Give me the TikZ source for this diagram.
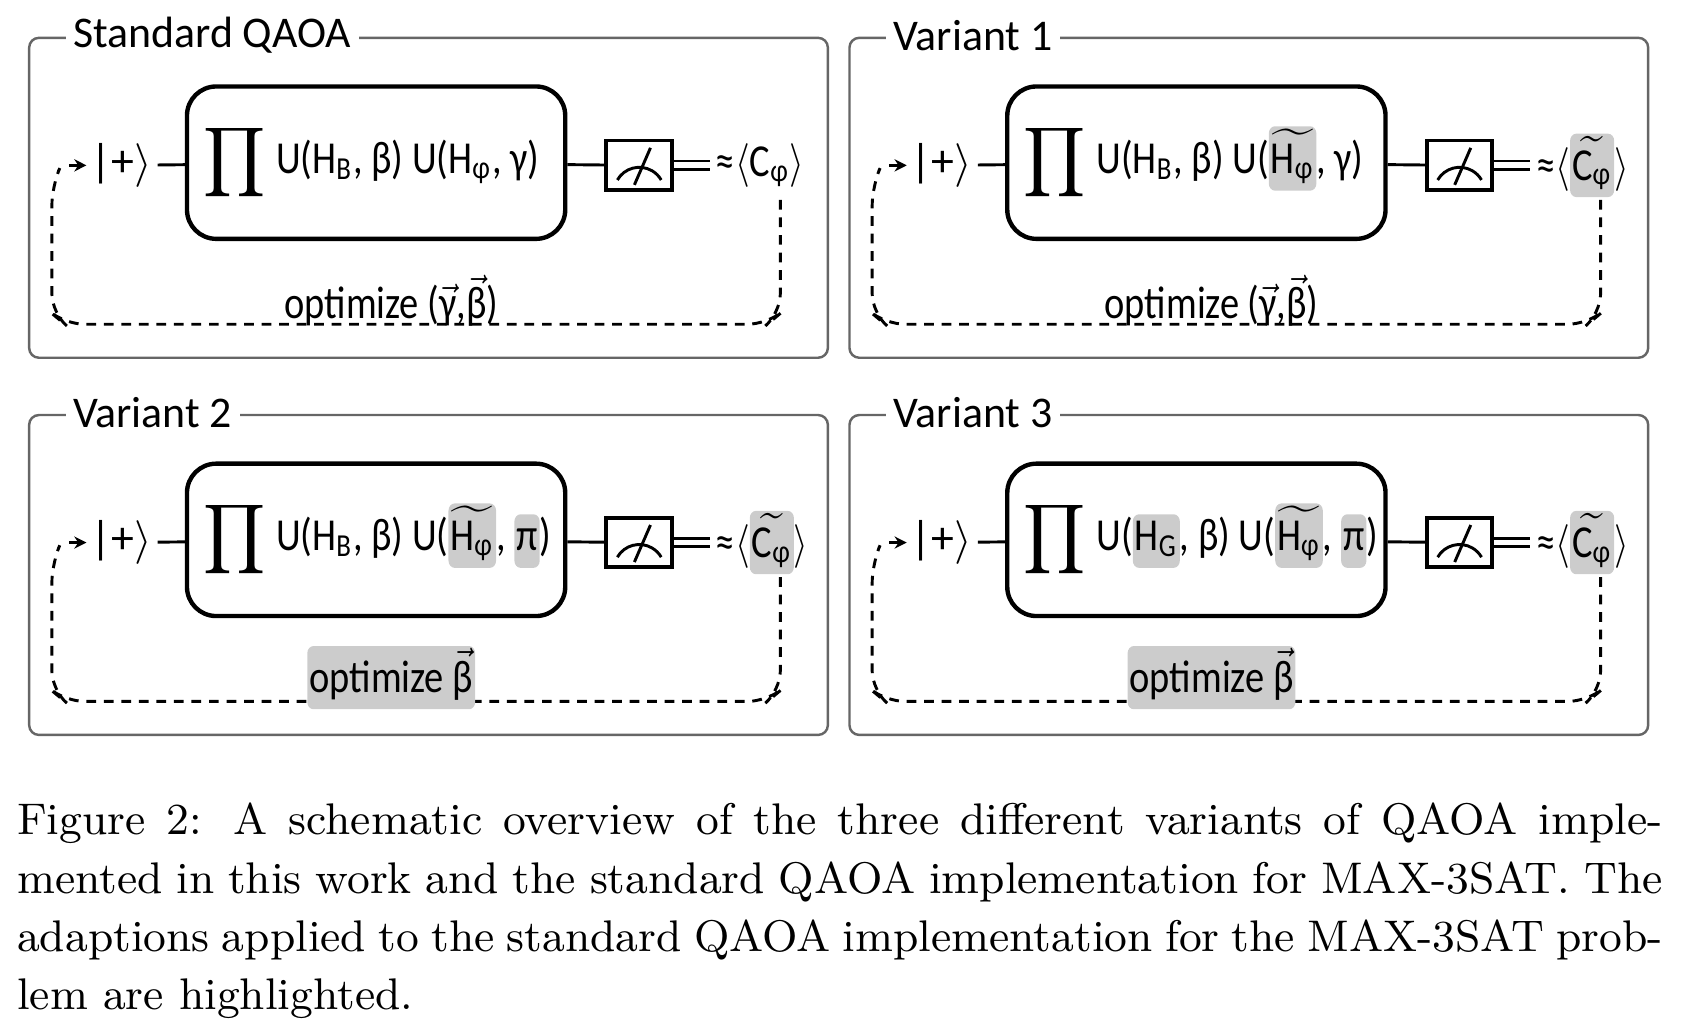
\documentclass[tikz,border=0pt]{standalone}
\usepackage{fontspec}
\usepackage{graphicx}
\newfontfamily\pf{Carlito}
\usetikzlibrary{arrows.meta}
\tikzset{
 x=0.222pt,y=-0.222pt,
 frame/.style={draw=black!60,line width=0.5pt,rounded corners=2pt},
 title/.style={fill=white,inner sep=1.5pt,anchor=west,font=\pf\fontsize{9}{10}\selectfont},
 gate/.style={draw,line width=0.9pt,rounded corners=6pt,minimum width=77.7pt,minimum height=31.3pt,inner sep=0pt},
 meter/.style={draw,line width=0.8pt,minimum width=13.5pt,minimum height=10.2pt,inner sep=0pt},
 txt/.style={font=\pf\fontsize{9.4}{10}\selectfont,inner sep=1pt},
 wire/.style={line width=0.6pt},
 loop/.style={line width=0.6pt,dash pattern=on 2pt off 1.6pt,rounded corners=4pt},
}
\newcommand\hl[1]{\tikz[baseline=(h.base)]\node[fill=black!20,rounded corners=1.5pt,inner sep=0.5pt](h){\strut #1};}
\newcommand\Ht{$\widetilde{\hbox{H\textsubscript{φ}}}$}
\newcommand\Ct{$\widetilde{\hbox{C\textsubscript{φ}}}$}
\newcommand\vg{$\vec{\hbox{γ}}$}
\newcommand\vb{$\vec{\hbox{β}}$}
\newcommand\nar[1]{\scalebox{0.84}[1]{#1}}
\newcommand\qpanel[7]{%
\begin{scope}[shift={(#2,#3)}]
 \draw[frame] (27,35) rectangle (766,331);
 \node[title] (#1t) at (60,33) {#4};
 \node[txt] (#1k) at (112,153) {|+$\rangle$};
 \node[gate] (#1b) at (348,150.5) {};
 \node[txt,anchor=west] (#1f) at (183,150.5) {$\displaystyle\prod$ \nar{#5}};
 \node[meter] (#1m) at (591.5,153) {};
 \draw[line width=0.6pt] ([xshift=-4.5pt,yshift=-3pt]#1m.center) arc[start angle=150,end angle=30,radius=5.2pt];
 \draw[line width=0.6pt] ([xshift=-1pt,yshift=-4pt]#1m.center) -- ([xshift=2.3pt,yshift=3.6pt]#1m.center);
 \node[txt,anchor=west] (#1o) at (657,153) {\nar{≈$\langle$#6$\rangle$}};
 \draw[wire] (#1k) -- (#1b);
 \draw[wire] (#1b) -- (#1m);
 \draw[wire,double,double distance=1.2pt,line width=0.5pt] (#1m) -- (#1o);
 \coordinate (#1a) at (722,185);
 \coordinate (#1e) at (80,153);
 \draw[loop] (#1a) -- (722,290) -- (710,300) -- (60,300) -- (48,290) -- (48,172) -- (52,163);
 \draw[wire,-{Stealth[length=2.5pt,width=2.5pt]}] (64,153) -- (#1e);
 \node[txt] (#1l) at (362,278) {\nar{#7}};
\end{scope}}
\begin{document}
\begin{tikzpicture}
\useasboundingbox (0,0) rectangle (1560,955);
\qpanel{p}{0}{0}{Standard QAOA}{U(H\textsubscript{B}, β) U(H\textsubscript{φ}, γ)}{C\textsubscript{φ}}{optimize (\vg,\vb)}
\qpanel{q}{759}{0}{Variant 1}{U(H\textsubscript{B}, β) U(\hl{\Ht}, γ)}{\hl{\Ct}}{optimize (\vg,\vb)}
\qpanel{r}{0}{349}{Variant 2}{U(H\textsubscript{B}, β) U(\hl{\Ht}, \hl{π})}{\hl{\Ct}}{\hl{optimize \vb}}
\qpanel{s}{759}{349}{Variant 3}{U(\hl{H\textsubscript{G}}, β) U(\hl{\Ht}, \hl{π})}{\hl{\Ct}}{\hl{optimize \vb}}
\node[anchor=north west,inner sep=0pt,text width=338pt,align=justify,font=\fontsize{9.1}{12}\selectfont] (cap) at (15,742)
{\hyphenpenalty10000 Figure 2: A schematic overview of the three different variants of QAOA implemented in this work and the standard QAOA implementation for MAX-3SAT. The adaptions applied to the standard QAOA implementation for the MAX-3SAT problem are highlighted.};
\end{tikzpicture}
\end{document}
